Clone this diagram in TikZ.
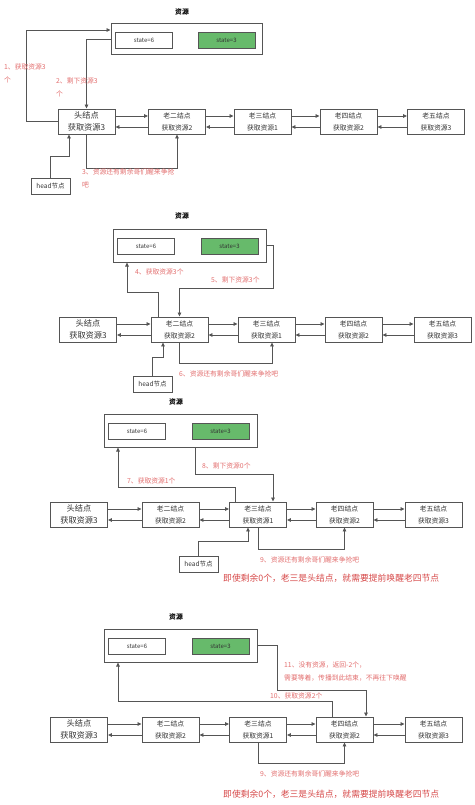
\documentclass[tikz,border=0pt]{standalone}
\usepackage{fontspec}
\setmainfont{Noto Sans CJK SC}
\usetikzlibrary{arrows.meta}
\definecolor{linegray}{RGB}{85,85,85}
\definecolor{notered}{RGB}{226,110,110}
\definecolor{bigred}{RGB}{214,72,72}
\definecolor{stategreen}{RGB}{103,186,107}

\begin{document}
\begin{tikzpicture}[x=1pt,y=-1pt,
    >={Triangle[length=4pt,width=3.6pt]},
    line/.style={draw=linegray,line width=0.8pt},
    qnode/.style={draw=linegray,line width=0.9pt,minimum width=57pt,minimum height=25pt,inner sep=0pt,align=center,text=black!80,font=\fontsize{6.8}{12}\selectfont},
    headnode/.style={qnode,font=\fontsize{8.2}{12}\selectfont},
    resbox/.style={draw=linegray,line width=1pt,minimum width=153pt,minimum height=33pt,inner sep=0pt},
    statebox/.style={draw=linegray,line width=0.9pt,minimum width=57pt,minimum height=16pt,inner sep=0pt,text=black!80,font=\fontsize{6}{7}\selectfont},
    greenbox/.style={statebox,fill=stategreen},
    hbox/.style={draw=linegray,line width=0.9pt,minimum width=39pt,minimum height=16pt,inner sep=0pt,text=black!80,font=\fontsize{6.5}{7}\selectfont},
    note/.style={anchor=west,inner sep=0pt,text=notered,align=left,font=\fontsize{6.8}{13}\selectfont},
    bignote/.style={anchor=west,inner sep=0pt,text=bigred,font=\fontsize{8.8}{10}\selectfont},
    restitle/.style={inner sep=0pt,font=\fontsize{6.8}{8}\selectfont\bfseries}
  ]
  \useasboundingbox (0,0) rectangle (474,805);

  % first round: head takes 3
  \node[restitle] (t1) at (182,12) {资源};
  \node[resbox,minimum width=151pt,minimum height=31pt] (res1) at (186.5,39.5) {};
  \node[statebox] (sa1) at (144,40) {state=6};
  \node[greenbox] (sb1) at (226.5,40) {state=3};
  \node[headnode] (a1) at (86.5,121.5) {头结点\\获取资源3};
  \node[qnode] (b1) at (177,121.5) {老二结点\\获取资源2};
  \node[qnode] (c1) at (262.5,121.5) {老三结点\\获取资源1};
  \node[qnode] (d1) at (348.5,121.5) {老四结点\\获取资源2};
  \node[qnode] (e1) at (436,121.5) {老五结点\\获取资源3};
  \node[hbox] (h1) at (50.5,186.5) {head节点};
  \draw[line,->] ([yshift=5.5pt]a1.east) -- ([yshift=5.5pt]b1.west);
  \draw[line,->] ([yshift=-5.5pt]b1.west) -- ([yshift=-5.5pt]a1.east);
  \draw[line,->] ([yshift=5.5pt]b1.east) -- ([yshift=5.5pt]c1.west);
  \draw[line,->] ([yshift=-5.5pt]c1.west) -- ([yshift=-5.5pt]b1.east);
  \draw[line,->] ([yshift=5.5pt]c1.east) -- ([yshift=5.5pt]d1.west);
  \draw[line,->] ([yshift=-5.5pt]d1.west) -- ([yshift=-5.5pt]c1.east);
  \draw[line,->] ([yshift=5.5pt]d1.east) -- ([yshift=5.5pt]e1.west);
  \draw[line,->] ([yshift=-5.5pt]e1.west) -- ([yshift=-5.5pt]d1.east);
  \draw[line,->] (h1.north) -- ++(0,-22) -| ([xshift=-17.5pt]a1.south);
  \draw[line,->] (a1.west) -- ++(-31,0) |- ([yshift=9.5pt]res1.west);
  \draw[line,->] (res1.west) -| (a1.north);
  \draw[line,->] (a1.south) -- ++(0,34) -| (b1.south);
  \node[note] (n11) at (4,73.5) {1、获取资源3\\个};
  \node[note] (n12) at (56,87.5) {2、剩下资源3\\个};
  \node[note] (n13) at (82,178.5) {3、资源还有剩余哥们醒来争抢\\吧};

  % second round: lao er takes 3
  \node[restitle] (t2) at (182,216) {资源};
  \node[resbox] (res2) at (189.5,245.5) {};
  \node[statebox] (sa2) at (146,246) {state=6};
  \node[greenbox] (sb2) at (229.5,246) {state=3};
  \node[headnode] (a2) at (88,329.5) {头结点\\获取资源3};
  \node[qnode] (b2) at (179.5,329.5) {老二结点\\获取资源2};
  \node[qnode] (c2) at (266.5,329.5) {老三结点\\获取资源1};
  \node[qnode] (d2) at (353.5,329.5) {老四结点\\获取资源2};
  \node[qnode] (e2) at (442.5,329.5) {老五结点\\获取资源3};
  \node[hbox] (h2) at (152.5,384) {head节点};
  \draw[line,->] ([yshift=5.5pt]a2.east) -- ([yshift=5.5pt]b2.west);
  \draw[line,->] ([yshift=-5.5pt]b2.west) -- ([yshift=-5.5pt]a2.east);
  \draw[line,->] ([yshift=5.5pt]b2.east) -- ([yshift=5.5pt]c2.west);
  \draw[line,->] ([yshift=-5.5pt]c2.west) -- ([yshift=-5.5pt]b2.east);
  \draw[line,->] ([yshift=5.5pt]c2.east) -- ([yshift=5.5pt]d2.west);
  \draw[line,->] ([yshift=-5.5pt]d2.west) -- ([yshift=-5.5pt]c2.east);
  \draw[line,->] ([yshift=5.5pt]d2.east) -- ([yshift=5.5pt]e2.west);
  \draw[line,->] ([yshift=-5.5pt]e2.west) -- ([yshift=-5.5pt]d2.east);
  \draw[line,->] (h2.north) -- ++(0,-18) -| ([xshift=-16.5pt]b2.south);
  \draw[line,->] ([xshift=-21.5pt]b2.north) -- ++(0,-24) -| ([xshift=-62.5pt]res2.south);
  \draw[line,->] (res2.east) -| ++(7,42.5) -| (b2.north);
  \draw[line,->] (b2.south) -- ++(0,21) -| ([xshift=5.5pt]c2.south);
  \node[note] (n24) at (135,272) {4、获取资源3个};
  \node[note] (n25) at (211,280) {5、剩下资源3个};
  \node[note] (n26) at (179,374) {6、资源还有剩余哥们醒来争抢吧};

  % third round: lao san takes 1
  \node[restitle] (t3) at (176,402) {资源};
  \node[resbox] (res3) at (180.5,430.5) {};
  \node[statebox] (sa3) at (137,431) {state=6};
  \node[greenbox] (sb3) at (220.5,431) {state=3};
  \node[headnode] (a3) at (79,514.5) {头结点\\获取资源3};
  \node[qnode] (b3) at (170.5,514.5) {老二结点\\获取资源2};
  \node[qnode] (c3) at (258,514.5) {老三结点\\获取资源1};
  \node[qnode] (d3) at (344.5,514.5) {老四结点\\获取资源2};
  \node[qnode] (e3) at (433.5,514.5) {老五结点\\获取资源3};
  \node[hbox] (h3) at (198.5,564) {head节点};
  \draw[line,->] ([yshift=5.5pt]a3.east) -- ([yshift=5.5pt]b3.west);
  \draw[line,->] ([yshift=-5.5pt]b3.west) -- ([yshift=-5.5pt]a3.east);
  \draw[line,->] ([yshift=5.5pt]b3.east) -- ([yshift=5.5pt]c3.west);
  \draw[line,->] ([yshift=-5.5pt]c3.west) -- ([yshift=-5.5pt]b3.east);
  \draw[line,->] ([yshift=5.5pt]c3.east) -- ([yshift=5.5pt]d3.west);
  \draw[line,->] ([yshift=-5.5pt]d3.west) -- ([yshift=-5.5pt]c3.east);
  \draw[line,->] ([yshift=5.5pt]d3.east) -- ([yshift=5.5pt]e3.west);
  \draw[line,->] ([yshift=-5.5pt]e3.west) -- ([yshift=-5.5pt]d3.east);
  \draw[line,->] (h3.north) -- ++(0,-14) -| ([xshift=-10pt]c3.south);
  \draw[line,->] ([xshift=-23pt]c3.north) -- ++(0,-14) -| ([xshift=-62.5pt]res3.south);
  \draw[line,->] ([xshift=14.5pt]res3.south) -- ++(0,27) -| ([xshift=15pt]c3.north);
  \draw[line,->] (c3.south) -- ++(0,22) -| (d3.south);
  \node[note] (n37) at (127,481) {7、获取资源1个};
  \node[note] (n38) at (202,466) {8、剩下资源0个};
  \node[note] (n39) at (260,560) {9、资源还有剩余哥们醒来争抢吧};
  \node[bignote] (m3) at (223,578) {即使剩余0个，老三是头结点，就需要提前唤醒老四节点};

  % fourth round: lao si gets -2 and waits
  \node[restitle] (t4) at (176,617) {资源};
  \node[resbox] (res4) at (180.5,645.5) {};
  \node[statebox] (sa4) at (137,646) {state=6};
  \node[greenbox] (sb4) at (220.5,646) {state=3};
  \node[headnode] (a4) at (79,729.5) {头结点\\获取资源3};
  \node[qnode] (b4) at (170.5,729.5) {老二结点\\获取资源2};
  \node[qnode] (c4) at (258,729.5) {老三结点\\获取资源1};
  \node[qnode] (d4) at (344.5,729.5) {老四结点\\获取资源2};
  \node[qnode] (e4) at (433.5,729.5) {老五结点\\获取资源3};
  \draw[line,->] ([yshift=5.5pt]a4.east) -- ([yshift=5.5pt]b4.west);
  \draw[line,->] ([yshift=-5.5pt]b4.west) -- ([yshift=-5.5pt]a4.east);
  \draw[line,->] ([yshift=5.5pt]b4.east) -- ([yshift=5.5pt]c4.west);
  \draw[line,->] ([yshift=-5.5pt]c4.west) -- ([yshift=-5.5pt]b4.east);
  \draw[line,->] ([yshift=5.5pt]c4.east) -- ([yshift=5.5pt]d4.west);
  \draw[line,->] ([yshift=-5.5pt]d4.west) -- ([yshift=-5.5pt]c4.east);
  \draw[line,->] ([yshift=5.5pt]d4.east) -- ([yshift=5.5pt]e4.west);
  \draw[line,->] ([yshift=-5.5pt]e4.west) -- ([yshift=-5.5pt]d4.east);
  \draw[line,->] ([xshift=-12.5pt]d4.north) -- ++(0,-15) -| ([xshift=-62.5pt]res4.south);
  \draw[line,->] (res4.east) -| ++(20,44.5) -| ([xshift=21.5pt]d4.north);
  \draw[line,->] (c4.south) -- ++(0,21) -| (d4.south);
  \node[note] (n411) at (284,671.5) {11、没有资源，返回-2个，\\需要等着，传播到此结束，不再往下唤醒};
  \node[note] (n410) at (270,696) {10、获取资源2个};
  \node[note] (n49) at (260,774) {9、资源还有剩余哥们醒来争抢吧};
  \node[bignote] (m4) at (223,794) {即使剩余0个，老三是头结点，就需要提前唤醒老四节点};
\end{tikzpicture}
\end{document}
